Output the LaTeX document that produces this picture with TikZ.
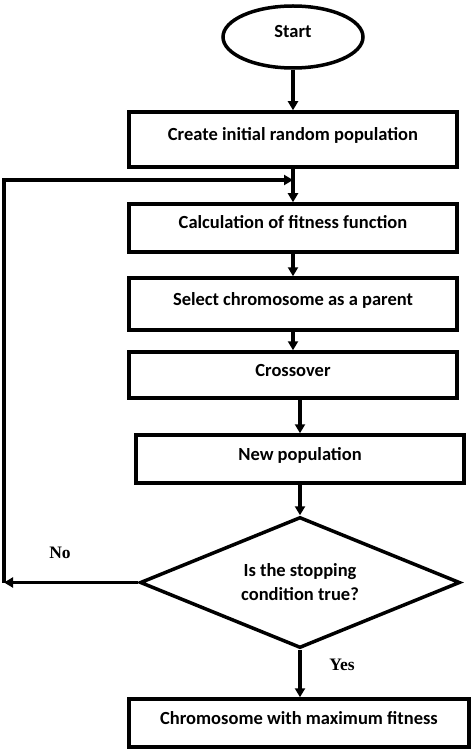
\documentclass[tikz,border=0pt]{standalone}
\usepackage{fontspec}
\setmainfont{Carlito}
\newfontfamily\answerfont{Liberation Serif}
\usetikzlibrary{shapes.geometric, arrows.meta}

\begin{document}
\begin{tikzpicture}[x=1pt, y=1pt, >={Triangle[length=9pt, width=10pt]}, line width=3.5pt,
    every node/.style={font=\fontsize{18.5}{22}\selectfont\bfseries},
    stepbox/.style={draw, rectangle, minimum width=328pt, inner sep=0pt, text height=13pt, text depth=11pt},
    startnode/.style={draw, ellipse, minimum width=140pt, minimum height=62pt, inner sep=0pt, text height=13pt, text depth=11pt},
    decision/.style={draw, diamond, aspect=2.44, minimum width=320pt, minimum height=131pt, inner sep=0pt, align=center},
    answer/.style={font=\answerfont\fontsize{17.5}{20}\selectfont\bfseries}]
    \useasboundingbox (0,0) rectangle (474,-751);
    % Start node
    \node[startnode] (start) at (293,-37) {Start};
    % Main steps
    \node[stepbox, minimum height=55pt] (init) at (293,-139.5) {Create initial random population};
    \node[stepbox, minimum height=48pt] (fitness) at (293,-228) {Calculation of fitness function};
    \node[stepbox, minimum height=52pt] (select) at (293,-304) {Select chromosome as a parent};
    \node[stepbox, minimum height=46pt] (cross) at (293,-375) {Crossover};
    \node[stepbox, minimum height=48pt] (newpop) at (300,-459) {New population};
    % Decision and result
    \node[decision] (stop) at (300,-582.5) {Is the stopping\\[2pt]condition true?};
    \node[stepbox, minimum width=340pt, minimum height=48pt] (best) at (299,-723) {Chromosome with maximum fitness};
    % Answer labels
    \node[answer] (no) at (60,-553) {No};
    \node[answer] (yes) at (342,-665) {Yes};
    % Loop corners
    \coordinate (noend) at (4,-582.5);
    \coordinate (join) at (293,-180);
    % Connections: straight down the chain
    \draw[->] (start) -- (init);
    \draw[->] (init) -- (fitness);
    \draw[->] (fitness) -- (select);
    \draw[->] (select) -- (cross);
    \draw[->] (cross.south -| newpop) -- (newpop);
    \draw[->] (newpop) -- (stop);
    \draw[->] (stop.south) -- (stop.south |- best.north);
    % Connections: back to the fitness step
    \draw[->] (stop) -- (noend);
    \draw[->] (noend) |- (join);
\end{tikzpicture}
\end{document}
